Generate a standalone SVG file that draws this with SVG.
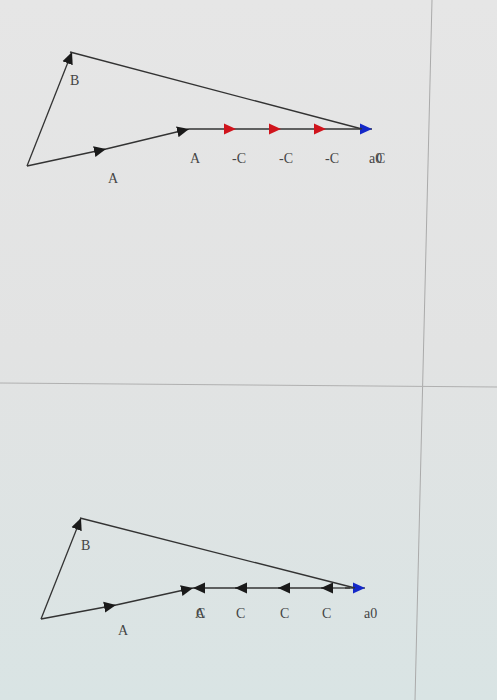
<svg xmlns="http://www.w3.org/2000/svg" width="497" height="700" viewBox="0 0 497 700">
<style>
.ln{stroke:#333;stroke-width:1.3;fill:none}
.lb{font-family:"Liberation Serif",serif;font-size:14px;fill:#444}
</style>
<defs>
<linearGradient id="bg" x1="0" y1="0" x2="0" y2="1">
<stop offset="0" stop-color="#e6e6e6"/>
<stop offset="0.5" stop-color="#e2e3e3"/>
<stop offset="1" stop-color="#d9e4e4"/>
</linearGradient>
<marker id="ak" markerUnits="userSpaceOnUse" markerWidth="14" markerHeight="12" refX="12" refY="6" orient="auto"><path d="M0,0.5 L12,6 L0,11.5 Z" fill="#1a1a1a"/></marker>
<marker id="ar" markerUnits="userSpaceOnUse" markerWidth="14" markerHeight="12" refX="12" refY="6" orient="auto"><path d="M0,0.5 L12,6 L0,11.5 Z" fill="#d0141c"/></marker>
<marker id="ab" markerUnits="userSpaceOnUse" markerWidth="14" markerHeight="12" refX="12" refY="6" orient="auto"><path d="M0,0.5 L12,6 L0,11.5 Z" fill="#1428c8"/></marker>
</defs>
<rect width="497" height="700" fill="url(#bg)"/>
<line x1="432" y1="0" x2="415" y2="700" stroke="#aaa" stroke-width="1"/>
<line x1="0" y1="383" x2="497" y2="387" stroke="#b0b0b0" stroke-width="1"/>

<g id="connectors">
<path class="ln" d="M27,166 L72,52" marker-end="url(#ak)"/>
<path class="ln" d="M27,166 L106,149" marker-end="url(#ak)"/>
<path class="ln" d="M106,149 L189,129" marker-end="url(#ak)"/>
<path class="ln" d="M189,129 L236,129" marker-end="url(#ar)"/>
<path class="ln" d="M236,129 L281,129" marker-end="url(#ar)"/>
<path class="ln" d="M281,129 L326,129" marker-end="url(#ar)"/>
<path class="ln" d="M326,129 L372,129" marker-end="url(#ab)"/>
<path class="ln" d="M70,52 L362,129"/>
<path class="ln" d="M41,619 L81,518" marker-end="url(#ak)"/>
<path class="ln" d="M41,619 L116,605" marker-end="url(#ak)"/>
<path class="ln" d="M116,605 L193,588" marker-end="url(#ak)"/>
<path class="ln" d="M238,588 L193,588" marker-end="url(#ak)"/>
<path class="ln" d="M282,588 L235,588" marker-end="url(#ak)"/>
<path class="ln" d="M325,588 L278,588" marker-end="url(#ak)"/>
<path class="ln" d="M350,588 L321,588" marker-end="url(#ak)"/>
<path class="ln" d="M345,588 L365,588" marker-end="url(#ab)"/>
<path class="ln" d="M80,518 L355,588"/>
</g>

<g id="labels-top">
<text class="lb" x="70" y="85">B</text>
<text class="lb" x="108" y="183">A</text>
<text class="lb" x="190" y="163">A</text>
<text class="lb" x="232" y="163">-C</text>
<text class="lb" x="279" y="163">-C</text>
<text class="lb" x="325" y="163">-C</text>
<text class="lb" x="369" y="163">a0</text>
<text class="lb" x="376" y="163">C</text>
</g>
<g id="labels-bottom">
<text class="lb" x="81" y="550">B</text>
<text class="lb" x="118" y="635">A</text>
<text class="lb" x="195" y="618">A</text>
<text class="lb" x="196" y="618">C</text>
<text class="lb" x="236" y="618">C</text>
<text class="lb" x="280" y="618">C</text>
<text class="lb" x="322" y="618">C</text>
<text class="lb" x="364" y="618">a0</text>
</g>
</svg>
